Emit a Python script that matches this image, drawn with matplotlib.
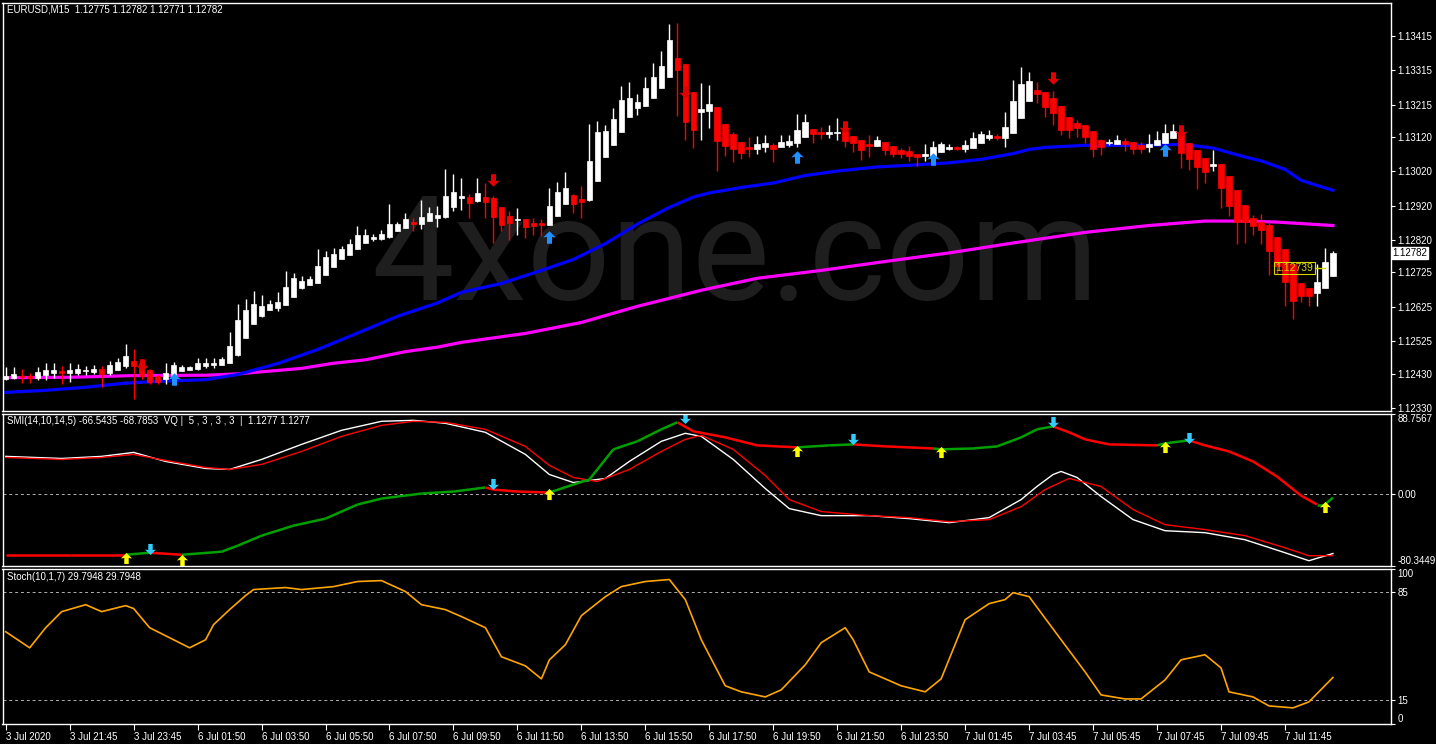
import matplotlib
matplotlib.use('Agg')
import matplotlib.pyplot as plt
from matplotlib.path import Path
from matplotlib.transforms import blended_transform_factory

# ---- price candles (EURUSD M15) ----
opens = [1.12415, 1.12416, 1.12424, 1.12422, 1.12416, 1.12425, 1.12431, 1.12437, 1.12431, 1.12433,
         1.12437, 1.12435, 1.12443, 1.12431, 1.12441, 1.12451, 1.12468, 1.12462, 1.12441, 1.12424,
         1.12414, 1.12422, 1.12437, 1.12441, 1.12443, 1.12451, 1.12455, 1.12455, 1.12462, 1.12484,
         1.12533, 1.12574, 1.12599, 1.12615, 1.12620, 1.12630, 1.12653, 1.12679, 1.12688, 1.12694,
         1.12718, 1.12741, 1.12763, 1.12776, 1.12792, 1.12811, 1.12823, 1.12823, 1.12829, 1.12847,
         1.12854, 1.12871, 1.12866, 1.12875, 1.12883, 1.12887, 1.12916, 1.12941, 1.12946, 1.12934,
         1.12946, 1.12941, 1.12916, 1.12889, 1.12878, 1.12880, 1.12869, 1.12868, 1.12864, 1.12889,
         1.12924, 1.12950, 1.12938, 1.12936, 1.12992, 1.13063, 1.13097, 1.13135, 1.13179, 1.13205,
         1.13211, 1.13234, 1.13263, 1.13296, 1.13351, 1.13333, 1.13251, 1.13193, 1.13197, 1.13207,
         1.13158, 1.13129, 1.13105, 1.13091, 1.13086, 1.13091, 1.13096, 1.13091, 1.13097, 1.13103,
         1.13121, 1.13143, 1.13135, 1.13129, 1.13133, 1.13137, 1.13123, 1.13111, 1.13100, 1.13094,
         1.13105, 1.13094, 1.13082, 1.13079, 1.13072, 1.13065, 1.13065, 1.13076, 1.13086, 1.13090,
         1.13084, 1.13087, 1.13103, 1.13116, 1.13123, 1.13117, 1.13132, 1.13175, 1.13226, 1.13258,
         1.13251, 1.13234, 1.13211, 1.13179, 1.13160, 1.13154, 1.13138, 1.13113, 1.13103, 1.13099,
         1.13109, 1.13105, 1.13096, 1.13091, 1.13096, 1.13103, 1.13117, 1.13131, 1.13102, 1.13082,
         1.13059, 1.13035, 1.13041, 1.13006, 1.12965, 1.12922, 1.12885, 1.12873, 1.12863, 1.12829,
         1.12794, 1.12751, 1.12694, 1.12679, 1.12665, 1.12679, 1.12714]
highs = [1.12448, 1.12448, 1.12442, 1.12433, 1.12449, 1.12462, 1.12460, 1.12453, 1.12462, 1.12459,
         1.12451, 1.12454, 1.12451, 1.12468, 1.12474, 1.12515, 1.12503, 1.12471, 1.12444, 1.12427,
         1.12462, 1.12465, 1.12456, 1.12452, 1.12476, 1.12476, 1.12474, 1.12477, 1.12552, 1.12632,
         1.12648, 1.12671, 1.12659, 1.12644, 1.12667, 1.12728, 1.12722, 1.12716, 1.12716, 1.12792,
         1.12788, 1.12796, 1.12802, 1.12823, 1.12860, 1.12852, 1.12837, 1.12849, 1.12924, 1.12871,
         1.12898, 1.12883, 1.12935, 1.12917, 1.12920, 1.13026, 1.13012, 1.13000, 1.12953, 1.13000,
         1.12987, 1.12947, 1.12916, 1.12903, 1.12914, 1.12880, 1.12885, 1.12880, 1.12971, 1.12988,
         1.13018, 1.12955, 1.12977, 1.13158, 1.13168, 1.13154, 1.13205, 1.13269, 1.13281, 1.13246,
         1.13294, 1.13337, 1.13370, 1.13450, 1.13454, 1.13333, 1.13251, 1.13279, 1.13271, 1.13207,
         1.13158, 1.13135, 1.13105, 1.13120, 1.13124, 1.13126, 1.13102, 1.13126, 1.13126, 1.13187,
         1.13187, 1.13143, 1.13150, 1.13155, 1.13175, 1.13152, 1.13123, 1.13111, 1.13125, 1.13124,
         1.13105, 1.13094, 1.13088, 1.13094, 1.13072, 1.13100, 1.13109, 1.13105, 1.13100, 1.13094,
         1.13113, 1.13135, 1.13138, 1.13141, 1.13129, 1.13193, 1.13287, 1.13325, 1.13310, 1.13281,
         1.13251, 1.13255, 1.13211, 1.13179, 1.13170, 1.13154, 1.13138, 1.13115, 1.13115, 1.13126,
         1.13117, 1.13105, 1.13107, 1.13129, 1.13137, 1.13158, 1.13158, 1.13146, 1.13102, 1.13082,
         1.13059, 1.13082, 1.13041, 1.13006, 1.12965, 1.12922, 1.12893, 1.12896, 1.12869, 1.12829,
         1.12794, 1.12751, 1.12694, 1.12679, 1.12749, 1.12796, 1.12788]
lows = [1.12412, 1.12413, 1.12401, 1.12401, 1.12412, 1.12410, 1.12416, 1.12398, 1.12404, 1.12425,
        1.12425, 1.12428, 1.12390, 1.12427, 1.12441, 1.12447, 1.12356, 1.12413, 1.12398, 1.12398,
        1.12398, 1.12420, 1.12437, 1.12439, 1.12441, 1.12447, 1.12447, 1.12455, 1.12462, 1.12482,
        1.12533, 1.12574, 1.12595, 1.12615, 1.12612, 1.12630, 1.12653, 1.12677, 1.12688, 1.12694,
        1.12718, 1.12741, 1.12763, 1.12776, 1.12792, 1.12811, 1.12817, 1.12819, 1.12827, 1.12845,
        1.12854, 1.12847, 1.12852, 1.12875, 1.12859, 1.12885, 1.12905, 1.12906, 1.12885, 1.12930,
        1.12885, 1.12811, 1.12847, 1.12819, 1.12835, 1.12827, 1.12835, 1.12831, 1.12864, 1.12889,
        1.12924, 1.12899, 1.12883, 1.12934, 1.12992, 1.13063, 1.13097, 1.13135, 1.13179, 1.13185,
        1.13211, 1.13234, 1.13263, 1.13296, 1.13181, 1.13111, 1.13088, 1.13111, 1.13146, 1.13021,
        1.13064, 1.13047, 1.13055, 1.13061, 1.13071, 1.13076, 1.13047, 1.13091, 1.13091, 1.13091,
        1.13121, 1.13103, 1.13114, 1.13117, 1.13111, 1.13091, 1.13076, 1.13053, 1.13061, 1.13094,
        1.13068, 1.13061, 1.13058, 1.13049, 1.13037, 1.13050, 1.13062, 1.13076, 1.13082, 1.13082,
        1.13076, 1.13087, 1.13103, 1.13111, 1.13111, 1.13092, 1.13132, 1.13175, 1.13226, 1.13220,
        1.13179, 1.13154, 1.13125, 1.13117, 1.13121, 1.13102, 1.13061, 1.13068, 1.13096, 1.13099,
        1.13080, 1.13070, 1.13074, 1.13076, 1.13096, 1.13103, 1.13117, 1.13031, 1.13023, 1.12969,
        1.12985, 1.13020, 1.12913, 1.12891, 1.12809, 1.12811, 1.12833, 1.12809, 1.12717, 1.12721,
        1.12628, 1.12589, 1.12638, 1.12626, 1.12626, 1.12679, 1.12714]
closes = [1.12422, 1.12428, 1.12420, 1.12418, 1.12434, 1.12439, 1.12439, 1.12431, 1.12441, 1.12443,
          1.12439, 1.12443, 1.12430, 1.12455, 1.12465, 1.12480, 1.12451, 1.12422, 1.12404, 1.12404,
          1.12431, 1.12455, 1.12449, 1.12449, 1.12460, 1.12462, 1.12462, 1.12472, 1.12509, 1.12585,
          1.12615, 1.12632, 1.12628, 1.12632, 1.12638, 1.12683, 1.12708, 1.12700, 1.12706, 1.12743,
          1.12770, 1.12780, 1.12794, 1.12809, 1.12833, 1.12833, 1.12829, 1.12837, 1.12866, 1.12866,
          1.12880, 1.12866, 1.12887, 1.12899, 1.12893, 1.12947, 1.12961, 1.12949, 1.12928, 1.12957,
          1.12930, 1.12887, 1.12864, 1.12868, 1.12881, 1.12858, 1.12862, 1.12864, 1.12918, 1.12959,
          1.12971, 1.12926, 1.12932, 1.13051, 1.13135, 1.13138, 1.13173, 1.13228, 1.13234, 1.13222,
          1.13263, 1.13296, 1.13327, 1.13403, 1.13316, 1.13164, 1.13140, 1.13203, 1.13216, 1.13109,
          1.13094, 1.13085, 1.13074, 1.13086, 1.13100, 1.13103, 1.13086, 1.13105, 1.13109, 1.13140,
          1.13164, 1.13128, 1.13129, 1.13135, 1.13135, 1.13109, 1.13102, 1.13082, 1.13094, 1.13111,
          1.13082, 1.13071, 1.13071, 1.13065, 1.13061, 1.13071, 1.13090, 1.13100, 1.13090, 1.13084,
          1.13096, 1.13117, 1.13129, 1.13126, 1.13117, 1.13150, 1.13226, 1.13275, 1.13285, 1.13246,
          1.13208, 1.13190, 1.13140, 1.13140, 1.13146, 1.13121, 1.13086, 1.13090, 1.13107, 1.13113,
          1.13101, 1.13086, 1.13086, 1.13100, 1.13113, 1.13132, 1.13138, 1.13074, 1.13055, 1.13033,
          1.13018, 1.13042, 1.12971, 1.12918, 1.12873, 1.12873, 1.12862, 1.12849, 1.12789, 1.12745,
          1.12696, 1.12642, 1.12657, 1.12655, 1.12696, 1.12755, 1.12782]

# moving averages (read at selected bars)
blue_idx = [0, 5, 10, 15, 20, 25, 29, 34, 39, 44, 49, 54, 57, 62, 67, 71, 75, 79, 83, 86, 88, 92,
            96, 100, 104, 109, 114, 118, 122, 126, 128, 130, 135, 139, 143, 147, 149, 151, 155, 157,
            160, 162, 164, 166]
blue_ma = [1.12375, 1.12381, 1.12390, 1.12402, 1.12408, 1.12412, 1.12427, 1.12459, 1.12500, 1.12548,
           1.12597, 1.12636, 1.12667, 1.12693, 1.12731, 1.12763, 1.12809, 1.12866, 1.12915, 1.12945,
           1.12957, 1.12973, 1.12986, 1.13008, 1.13021, 1.13033, 1.13039, 1.13045, 1.13055, 1.13072,
           1.13084, 1.13090, 1.13096, 1.13096, 1.13096, 1.13099, 1.13094, 1.13088, 1.13062, 1.13051,
           1.13026, 1.12994, 1.12979, 1.12965]
mag_idx = [0, 8, 16, 25, 29, 33, 37, 41, 45, 50, 54, 57, 65, 72, 79, 87, 94, 102, 110, 118, 126,
           135, 143, 150, 155, 159, 166]
mag_ma = [1.12418, 1.12419, 1.12424, 1.12425, 1.12429, 1.12437, 1.12445, 1.12460, 1.12470, 1.12494,
          1.12507, 1.12521, 1.12547, 1.12579, 1.12626, 1.12673, 1.12708, 1.12731, 1.12757, 1.12782,
          1.12811, 1.12842, 1.12862, 1.12875, 1.12875, 1.12872, 1.12862]

sell_idx = [17, 61, 85, 105, 131, 147]
sell_px = [1.12454, 1.12994, 1.13251, 1.13149, 1.13292, 1.13137]
buy_idx = [21, 68, 99, 116, 145]
buy_px = [1.12415, 1.12828, 1.13061, 1.13056, 1.13082]

price_ticks = [1.13415, 1.13315, 1.13215, 1.13120, 1.13020, 1.12920, 1.12820, 1.12725, 1.12625,
               1.12525, 1.12430, 1.12330]
price_labels = ['1.13415', '1.13315', '1.13215', '1.13120', '1.13020', '1.12920', '1.12820',
                '1.12725', '1.12625', '1.12525', '1.12430', '1.12330']
last_price = 1.12782
marker_price = 1.12739

# ---- SMI panel ----
smi_idx = [0, 7, 12, 16, 20, 25, 28, 32, 37, 42, 47, 51, 55, 60, 65, 68, 71, 75, 78, 82, 85, 87,
           91, 95, 98, 102, 108, 113, 118, 123, 127, 129, 131, 132, 134, 137, 141, 145, 150, 155,
           160, 163, 166]
smi_vals = [41.2, 38.9, 41.2, 45.6, 35.6, 27.8, 26.7, 37.8, 54.5, 70.1, 80.1, 81.2, 77.9, 67.9,
            43.4, 21.1, 12.2, 16.7, 35.6, 57.9, 66.8, 63.4, 37.8, 5.6, -16.7, -24.5, -24.5, -27.8,
            -32.3, -26.7, -6.7, 8.0, 21.1, 24.5, 17.8, -3.3, -28.9, -41.2, -43.4, -51.2, -65.6,
            -74.5, -66.5]
sig_idx = [0, 7, 12, 16, 20, 25, 28, 32, 37, 42, 47, 51, 55, 60, 65, 68, 71, 74, 78, 82, 85, 87,
           91, 95, 98, 102, 108, 113, 118, 123, 127, 130, 133, 137, 141, 145, 150, 155, 160, 163,
           166]
sig_vals = [40.0, 37.8, 40.0, 43.4, 36.7, 28.9, 26.7, 32.3, 46.7, 63.4, 75.6, 80.1, 78.9, 71.2,
            52.3, 31.2, 17.8, 13.4, 26.7, 46.7, 60.1, 64.5, 48.9, 20.0, -6.7, -20.0, -24.5, -26.7,
            -31.2, -28.9, -14.5, 4.4, 16.7, 7.8, -17.8, -34.5, -40.0, -46.7, -60.1, -69.0, -68.8]
vq_idx = [0, 8, 15, 18, 22, 27, 29, 32, 36, 40, 44, 47, 52, 56, 60, 61, 64, 68, 71, 73, 76, 79,
          82, 84, 86, 90, 94, 99, 103, 106, 110, 116, 117, 121, 124, 127, 129, 131, 133, 135, 138,
          144, 145, 148, 150, 153, 156, 159, 162, 164, 165, 166]
vq_vals = [-67.9, -67.9, -67.9, -65.6, -67.9, -64.5, -57.9, -46.7, -35.6, -27.8, -12.2, -5.6, 0.0,
           2.2, 6.7, 4.4, 2.2, 1.1, 10.0, 15.6, 49.0, 57.9, 71.2, 79.0, 69.0, 62.3, 53.4, 51.2, 53.4,
           54.5, 52.3, 50.0, 49.0, 50.0, 52.3, 62.3, 71.2, 74.5, 67.9, 60.1, 54.5, 53.4, 55.6, 59.0,
           53.4, 46.7, 35.6, 18.9, -2.2, -12.2, -12.2, -4.4]
vq_up = [0, 0, 0, 1, 0, 1, 1, 1, 1, 1, 1, 1, 1, 1, 1, 0, 0, 0, 1, 1, 1, 1, 1, 1, 0, 0, 0, 0, 1, 1,
         0, 0, 1, 1, 1, 1, 1, 1, 0, 0, 0, 0, 1, 1, 0, 0, 0, 0, 0, 0, 1, 1]
vq_buy_idx = [15, 22, 68, 99, 117, 145, 165]
vq_buy_vals = [-71.2, -73.4, 0.0, 46.7, 45.6, 51.2, -14.5]
vq_sell_idx = [18, 61, 85, 106, 131, 148]
vq_sell_vals = [-61.2, 11.1, 83.4, 60.1, 79.0, 61.2]
smi_top, smi_bottom = 88.7567, -80.3449

# ---- Stochastic panel ----
st_idx = [0, 3, 5, 7, 10, 12, 15, 16, 18, 21, 23, 25, 26, 28, 30, 31, 35, 37, 41, 44, 47, 50, 52,
          55, 57, 60, 62, 65, 67, 68, 70, 72, 75, 77, 80, 83, 85, 87, 90, 92, 95, 97, 100, 102, 105,
          106, 108, 112, 115, 117, 120, 123, 125, 126, 128, 132, 135, 137, 140, 142, 145, 147, 150,
          152, 153, 156, 158, 161, 163, 166]
st_vals = [59.4, 49.0, 62.0, 72.4, 76.9, 72.4, 76.3, 74.4, 62.0, 54.2, 49.0, 54.2, 64.0, 73.7, 82.8,
           86.7, 88.0, 86.7, 88.6, 91.9, 92.5, 85.4, 76.9, 73.7, 69.2, 62.0, 43.2, 37.3, 28.9, 41.2,
           51.0, 69.8, 82.1, 88.6, 91.9, 93.2, 80.2, 54.2, 24.4, 20.5, 17.2, 21.8, 38.0, 52.3, 62.0,
           54.2, 33.4, 24.4, 20.5, 28.9, 67.2, 77.6, 80.2, 84.7, 82.1, 54.2, 33.4, 18.5, 15.9, 15.9,
           28.2, 41.2, 44.5, 36.0, 20.5, 17.2, 11.4, 10.1, 14.0, 29.8]

time_idx = list(range(0, 161, 8))
time_labels = ['3 Jul 2020', '3 Jul 21:45', '3 Jul 23:45', '6 Jul 01:50', '6 Jul 03:50',
               '6 Jul 05:50', '6 Jul 07:50', '6 Jul 09:50', '6 Jul 11:50', '6 Jul 13:50',
               '6 Jul 15:50', '6 Jul 17:50', '6 Jul 19:50', '6 Jul 21:50', '6 Jul 23:50',
               '7 Jul 01:45', '7 Jul 03:45', '7 Jul 05:45', '7 Jul 07:45', '7 Jul 09:45',
               '7 Jul 11:45']

plt.rcParams['font.family'] = ['Liberation Sans', 'DejaVu Sans']

W, H = 1436, 744

# thick MT4-style arrow marker (pointing up; flipped for down)
up_verts = [(0, 0.5), (0.5, 0.0), (0.2, 0.05), (0.2, -0.5), (-0.2, -0.5), (-0.2, 0.05),
            (-0.5, 0.0), (0, 0.5)]
UP = Path(up_verts, closed=True)
DOWN = Path([(x, -y) for x, y in up_verts], closed=True)


def rect(l, t, r, b):
    return [l / W, 1 - b / H, (r - l) / W, (b - t) / H]


fig = plt.figure(figsize=(W / 100, H / 100), dpi=100, facecolor='black')
ax = fig.add_axes(rect(2.5, 3, 1390.5, 410.5))
ax_smi = fig.add_axes(rect(2.5, 413.5, 1390.5, 566), sharex=ax)
ax_st = fig.add_axes(rect(2.5, 569, 1390.5, 723.5), sharex=ax)

for a in (ax, ax_smi, ax_st):
    a.set_facecolor('black')
    for s in a.spines.values():
        s.set_color('white')
        s.set_linewidth(1)
    a.yaxis.tick_right()
    a.tick_params(axis='y', colors='white', labelsize=7, length=3, width=0.8, pad=2)
    a.tick_params(axis='x', colors='white', labelsize=7, length=4, width=0.8, pad=2)
for a in (ax, ax_smi):
    a.tick_params(axis='x', bottom=False, labelbottom=False)

# watermark
ax.text(0.528, 0.27, '4xone.com', transform=ax.transAxes, fontsize=106, color='#1e1e1e',
        family='Roboto', ha='center', va='baseline', zorder=0)

# candles
n = len(closes)
xs = list(range(n))
cols = ['white' if c >= o else '#ff0000' for o, c in zip(opens, closes)]
ax.vlines(xs, lows, highs, colors=cols, linewidth=1, zorder=3)
bottoms = [min(o, c) for o, c in zip(opens, closes)]
heights = [max(abs(c - o), 0.00002) for o, c in zip(opens, closes)]
ax.bar(xs, heights, bottom=bottoms, width=0.7, color=cols, edgecolor=cols, linewidth=0.5, zorder=4)

ax.plot(mag_idx, mag_ma, color='#ff00ff', lw=2.3, zorder=2)
ax.plot(blue_idx, blue_ma, color='#0000ff', lw=2.3, zorder=2)

ax.plot(sell_idx, sell_px, ls='none', marker=DOWN, markersize=9, color='#e00000', mew=0, zorder=5)
ax.plot(buy_idx, buy_px, ls='none', marker=UP, markersize=9, color='#1e90ff', mew=0, zorder=5)

ax.set_xlim(-0.4, 173.2)
ax.set_ylim(1.123221, 1.135114)
ax.set_yticks(price_ticks)
ax.set_yticklabels(price_labels)

tr = blended_transform_factory(ax.transAxes, ax.transData)
ax.text(1.0015, last_price, '1.12782', transform=tr, fontsize=7, color='black', va='center',
        ha='left', bbox=dict(facecolor='white', edgecolor='white', pad=0.6), clip_on=False, zorder=6)
ax.text(161.2, marker_price, '1.12739', fontsize=7.5, color='#d8d800', ha='center', va='center',
        bbox=dict(facecolor='none', edgecolor='#d8d800', pad=0.8, linewidth=0.8), zorder=6)
ax.plot([163.8, 165.0], [marker_price, marker_price], color='#d8d800', lw=1, zorder=6)

fig.text(7 / W, 1 - 10 / H, 'EURUSD,M15  1.12775 1.12782 1.12771 1.12782', color='white',
         fontsize=7, va='center', ha='left')

# SMI panel
ax_smi.set_ylim(smi_bottom, smi_top)
ax_smi.axhline(0, color='#b0b0b0', lw=0.7, ls=(0, (3, 3)))
ax_smi.plot(smi_idx, smi_vals, color='white', lw=1)
ax_smi.plot(sig_idx, sig_vals, color='#ff0000', lw=1)
for k in range(1, len(vq_idx)):
    c = '#00a000' if vq_up[k] else '#ff0000'
    ax_smi.plot(vq_idx[k - 1:k + 1], vq_vals[k - 1:k + 1], color=c, lw=1.8,
                solid_capstyle='butt')
ax_smi.plot(vq_buy_idx, vq_buy_vals, ls='none', marker=UP, markersize=8, color='#ffff00', mew=0)
ax_smi.plot(vq_sell_idx, vq_sell_vals, ls='none', marker=DOWN, markersize=8, color='#33ccff', mew=0)
ax_smi.set_yticks([smi_top, 0, smi_bottom])
ax_smi.set_yticklabels(['88.7567', '0.00', '-80.3449'])
lbls = ax_smi.get_yticklabels()
lbls[0].set_va('top')
lbls[2].set_va('bottom')
ax_smi.text(0.003, 0.95, 'SMI(14,10,14,5) -66.5435 -68.7853  VQ |  5 , 3 , 3 , 3  |  1.1277 1.1277',
            transform=ax_smi.transAxes, color='white', fontsize=7, va='center', ha='left')

# Stochastic panel
ax_st.set_ylim(0, 100)
for lvl in (85, 15):
    ax_st.axhline(lvl, color='#b0b0b0', lw=0.7, ls=(0, (3, 3)))
ax_st.plot(st_idx, st_vals, color='#ffa500', lw=1.2)
ax_st.set_yticks([100, 85, 15, 0])
ax_st.set_yticklabels(['100', '85', '15', '0'])
lbls = ax_st.get_yticklabels()
lbls[0].set_va('top')
lbls[3].set_va('bottom')
ax_st.text(0.003, 0.95, 'Stoch(10,1,7) 29.7948 29.7948', transform=ax_st.transAxes,
           color='white', fontsize=7, va='center', ha='left')

ax_st.set_xticks(time_idx)
ax_st.set_xticklabels(time_labels)
for lb in ax_st.get_xticklabels():
    lb.set_ha('left')

fig.savefig('out.png', dpi=100, facecolor='black')
